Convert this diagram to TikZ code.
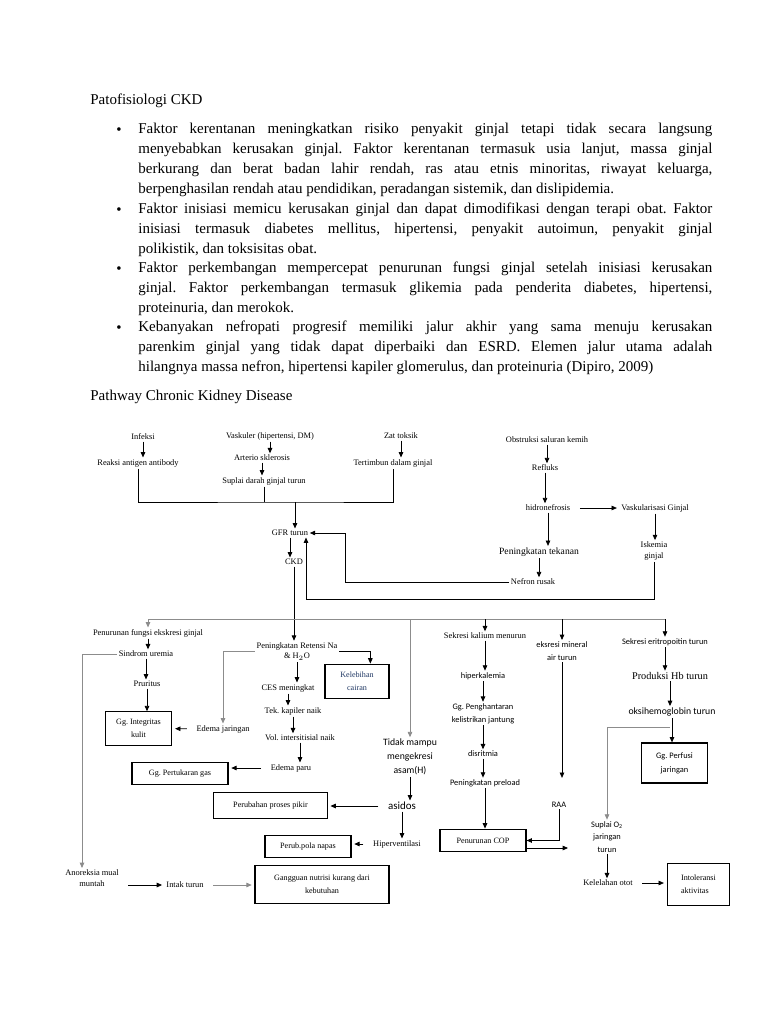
\documentclass[tikz,border=0pt]{standalone}
\usepackage{fontspec}
\setmainfont{Liberation Serif}
\newfontfamily\calfont{Carlito}
\usetikzlibrary{arrows.meta}
\definecolor{navytext}{RGB}{32,56,100}
\definecolor{linegray}{gray}{0.55}
\frenchspacing

\begin{document}
\begin{tikzpicture}[x=0.75pt, y=-0.75pt, line width=0.6pt,
    arr/.style={-{Triangle[length=4pt,width=3.4pt]}},
    gapped/.style={shorten <=6pt, shorten >=2pt},
    grayln/.style={draw=linegray},
    lbl/.style={font=\fontsize{6.3}{8}\selectfont, align=center, inner sep=1pt},
    lblbig/.style={font=\fontsize{7.2}{9}\selectfont, align=center, inner sep=1pt},
    cal/.style={font=\calfont\fontsize{6.3}{9.5}\selectfont, align=center, inner sep=1pt},
    calbig/.style={font=\calfont\fontsize{7.3}{10.5}\selectfont, align=center, inner sep=1pt},
    boxd/.style={draw, line width=0.9pt, align=center, inner sep=1pt, font=\fontsize{6.1}{9.5}\selectfont},
    para/.style={font=\fontsize{11.25}{14.8}\selectfont, text width=430.5pt, align=justify, inner sep=0pt, anchor=north west},
    head/.style={font=\fontsize{11.25}{14.8}\selectfont, inner sep=0pt, anchor=west}]
    \useasboundingbox[fill=white] (0,0) rectangle (768,1024);

    \node[head] (title) at (90,101) {Patofisiologi CKD};
    \node[head] (dot1) at (116,131) {\textbullet};
    \node[para] (item1) at (138,123)
    {Faktor kerentanan meningkatkan risiko penyakit ginjal tetapi tidak secara langsung\linebreak
      menyebabkan kerusakan ginjal. Faktor kerentanan termasuk usia lanjut, massa ginjal\linebreak
      berkurang dan berat badan lahir rendah, ras atau etnis minoritas, riwayat keluarga,\linebreak
      berpenghasilan rendah atau pendidikan, peradangan sistemik, dan dislipidemia.};
    \node[head] (dot2) at (116,211) {\textbullet};
    \node[para] (item2) at (138,203)
    {Faktor inisiasi memicu kerusakan ginjal dan dapat dimodifikasi dengan terapi obat. Faktor\linebreak
      inisiasi termasuk diabetes mellitus, hipertensi, penyakit autoimun, penyakit ginjal\linebreak
      polikistik, dan toksisitas obat.};
    \node[head] (dot3) at (116,270) {\textbullet};
    \node[para] (item3) at (138,262)
    {Faktor perkembangan mempercepat penurunan fungsi ginjal setelah inisiasi kerusakan\linebreak
      ginjal. Faktor perkembangan termasuk glikemia pada penderita diabetes, hipertensi,\linebreak
      proteinuria, dan merokok.};
    \node[head] (dot4) at (116,329) {\textbullet};
    \node[para] (item4) at (138,321)
    {Kebanyakan nefropati progresif memiliki jalur akhir yang sama menuju kerusakan\linebreak
      parenkim ginjal yang tidak dapat diperbaiki dan ESRD. Elemen jalur utama adalah\linebreak
      hilangnya massa nefron, hipertensi kapiler glomerulus, dan proteinuria (Dipiro, 2009)};
    \node[head] (pathway) at (90,397) {Pathway Chronic Kidney Disease};

    \node[lbl] (infeksi) at (143,437) {Infeksi};
    \node[lbl] (reaksi) at (138,463) {Reaksi antigen antibody};
    \node[lbl] (vaskuler) at (270,436) {Vaskuler (hipertensi, DM)};
    \node[lbl] (arterio) at (262,458) {Arterio sklerosis};
    \node[lbl] (suplai) at (264,481) {Suplai darah ginjal turun};
    \node[lbl] (zat) at (401,436) {Zat toksik};
    \node[lbl] (tertimbun) at (393,463) {Tertimbun dalam ginjal};
    \node[lbl] (obstruksi) at (547,440) {Obstruksi saluran kemih};
    \node[lbl] (refluks) at (545,468) {Refluks};
    \node[lbl] (hidro) at (548,508) {hidronefrosis};
    \node[lbl] (vaskginjal) at (655,508) {Vaskularisasi Ginjal};
    \node[lbl] (iskemia) at (654,551) {Iskemia\\ginjal};
    \node[lblbig] (tekanan) at (539,552) {Peningkatan tekanan};
    \node[lbl] (nefron) at (533,582) {Nefron rusak};
    \node[lbl] (gfr) at (290,533) {GFR turun};
    \node[lbl] (ckd) at (294,562) {CKD};

    \node[lbl] (penfungsi) at (148,633) {Penurunan fungsi ekskresi ginjal};
    \node[lbl] (sindrom) at (146,654) {Sindrom uremia};
    \node[lbl] (pruritus) at (147,684) {Pruritus};
    \node[boxd, minimum width=50pt, minimum height=25pt] (kulit) at (138.5,728.5) {Gg. Integritas\\kulit};
    \node[lbl] (edjar) at (223,729) {Edema jaringan};
    \node[lbl] (retensi) at (297,651.5) {Peningkatan Retensi Na\\\& H$_2$O};
    \node[boxd, text=navytext, minimum width=48pt, minimum height=26pt] (cairan) at (357,681.5) {Kelebihan\\cairan};
    \node[lbl] (ces) at (288,688) {CES meningkat};
    \node[lbl] (tek) at (293,711) {Tek. kapiler naik};
    \node[lbl] (vol) at (300,738) {Vol. intersitisial naik};
    \node[lbl] (edparu) at (291,768) {Edema paru};
    \node[boxd, minimum width=72pt, minimum height=17pt] (gas) at (180,773.5) {Gg. Pertukaran gas};
    \node[calbig] (tidak) at (410,757) {Tidak mampu\\mengekresi\\asam(H)};
    \node[calbig, font=\calfont\fontsize{8.2}{10}\selectfont] (asidos) at (402,806) {asidos};
    \node[boxd, minimum width=85pt, minimum height=19pt] (pikir) at (270.5,805.5) {Perubahan proses pikir};
    \node[lbl] (hiper) at (397,844) {Hiperventilasi};
    \node[boxd, minimum width=64.5pt, minimum height=17pt] (napas) at (308,846.5) {Perub.pola napas};
    \node[lbl] (anoreksia) at (92,878) {Anoreksia mual\\muntah};
    \node[lbl] (intak) at (185,885) {Intak turun};
    \node[boxd, minimum width=100.5pt, minimum height=29pt] (nutrisi) at (322,884.5) {Gangguan nutrisi kurang dari\\kebutuhan};

    \node[lbl] (kalium) at (485,636) {Sekresi kalium menurun};
    \node[cal] (mineral) at (562,651) {eksresi mineral\\air turun};
    \node[cal] (eritro) at (665,642) {Sekresi eritropoitin turun};
    \node[cal] (hiperk) at (483,676) {hiperkalemia};
    \node[cal] (hantar) at (483,713.5) {Gg. Penghantaran\\kelistrikan jantung};
    \node[cal] (disritmia) at (483,754) {disritmia};
    \node[cal] (preload) at (485,783) {Peningkatan preload};
    \node[cal] (raa) at (559,805) {RAA};
    \node[boxd, minimum width=64.5pt, minimum height=17pt] (cop) at (483,840.5) {Penurunan COP};
    \node[lblbig, font=\fontsize{7.7}{9}\selectfont] (hb) at (670,676) {Produksi Hb turun};
    \node[calbig] (oksi) at (672,712) {oksihemoglobin turun};
    \node[boxd, font=\calfont\fontsize{6.3}{10.5}\selectfont, minimum width=49pt, minimum height=30pt] (perfusi) at (674.5,763) {Gg. Perfusi\\jaringan};
    \node[cal] (suplo) at (607,837) {Suplai O\textsubscript{2}\\jaringan\\turun};
    \node[lbl] (lelah) at (608,883) {Kelelahan otot};
    \node[boxd, align=left, minimum width=47pt, minimum height=31pt] (intol) at (698.5,884.5) {Intoleransi\\aktivitas};

    \coordinate (jtop) at (295,502);
    \coordinate (knef) at (345,533);
    \coordinate (kisk) at (306,599);
    \coordinate (hl) at (0,619);
    \coordinate (kuremia) at (82,654);
    \coordinate (koksi) at (670,727);
    \coordinate (copend) at (568,848);

    \draw[arr] (infeksi) -- (infeksi |- reaksi.north);
    \draw[arr] (vaskuler) -- (vaskuler |- arterio.north);
    \draw[arr] (arterio) -- (arterio |- suplai.north);
    \draw[arr] (zat) -- (zat |- tertimbun.north);
    \draw (reaksi) |- (jtop) -| (tertimbun);
    \draw (suplai) -- (suplai |- jtop);
    \draw[arr] (jtop) -- (jtop |- gfr.north);
    \draw[arr] (gfr) -- (gfr |- ckd.north);

    \draw[arr] (obstruksi) -- (obstruksi |- refluks.north);
    \draw[arr] (refluks) -- (refluks |- hidro.north);
    \draw[arr, gapped] (hidro) -- (vaskginjal);
    \draw[arr] (vaskginjal) -- (vaskginjal |- iskemia.north);
    \draw[arr] (hidro) -- (hidro |- tekanan.north);
    \draw[arr] (tekanan) -- (tekanan |- nefron.north);
    \draw[arr] (nefron) -| (knef) -- (gfr);
    \draw[arr] (iskemia) |- (kisk) -- (kisk |- gfr.south);

    \draw[arr] (ckd) -- (ckd |- retensi.north);
    \draw[grayln] (penfungsi |- hl) -- (eritro |- hl);
    \draw[arr, grayln] (penfungsi |- hl) -- (penfungsi);
    \draw[arr, grayln] (tidak |- hl) -- (tidak);
    \draw[arr] (kalium |- hl) -- (kalium);
    \draw[arr] (mineral |- hl) -- (mineral);
    \draw[arr] (eritro |- hl) -- (eritro);

    \draw[arr] (penfungsi) -- (penfungsi |- sindrom.north);
    \draw[arr] (sindrom) -- (sindrom |- pruritus.north);
    \draw[arr] (pruritus) -- (pruritus |- kulit.north);
    \draw[arr, grayln] (sindrom) -- (kuremia) -- (kuremia |- anoreksia.north);
    \draw[arr, grayln] (retensi) -| (edjar);
    \draw[arr] (retensi) -| ([xshift=10pt]cairan.north);
    \draw[arr, gapped] (edjar) -- (kulit);
    \draw[arr] (retensi) -- (retensi |- ces.north);
    \draw[arr] (ces) -- (ces |- tek.north);
    \draw[arr] (tek) -- (tek |- vol.north);
    \draw[arr] (vol) -- (vol |- edparu.north);
    \draw[arr, gapped] (edparu) -- (gas.east |- edparu);

    \draw[arr] (tidak) -- (tidak |- asidos.north);
    \draw[arr, gapped] (asidos) -- (pikir.east |- asidos);
    \draw[arr] (asidos) -- (asidos |- hiper.north);
    \draw[arr, gapped] (hiper) -- (napas.east |- hiper);
    \draw[arr, gapped] (anoreksia.east |- intak) -- (intak);
    \draw[arr, grayln, gapped] (intak) -- (nutrisi.west |- intak);

    \draw[arr] (kalium) -- (kalium |- hiperk.north);
    \draw[arr] (hiperk) -- (hiperk |- hantar.north);
    \draw[arr] (hantar) -- (hantar |- disritmia.north);
    \draw[arr] (disritmia) -- (disritmia |- preload.north);
    \draw[arr] (preload) -- (preload |- cop.north);
    \draw[arr, shorten >=17pt] (mineral) -- (mineral |- raa.north);
    \draw[arr] (raa) |- (cop);
    \draw[arr] (cop.east |- copend) -- (copend);

    \draw[arr] (eritro) -- (eritro |- hb.north);
    \draw[arr] (hb) -- (hb |- oksi.north);
    \draw[arr] (oksi) -- (oksi |- perfusi.north);
    \draw[arr, grayln] (koksi) -| (suplo);
    \draw[arr] (suplo) -- (suplo |- lelah.north);
    \draw[arr, gapped] (lelah) -- (intol.west |- lelah);
\end{tikzpicture}
\end{document}
